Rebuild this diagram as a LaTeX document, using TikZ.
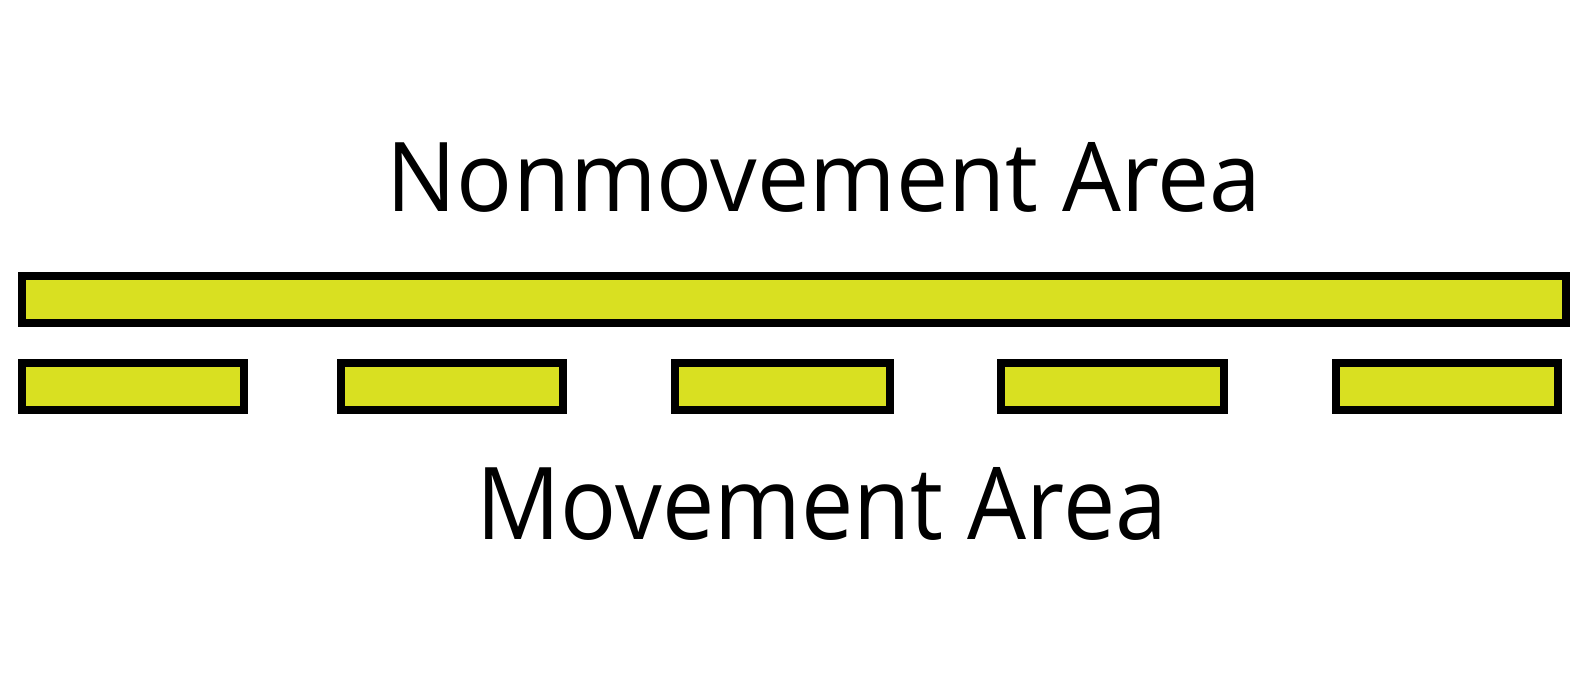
\documentclass[tikz,border=0pt]{standalone}
\usepackage{fontspec}
\setmainfont{Open Sans}
\definecolor{barfill}{RGB}{217,224,33}
\tikzset{
  bar/.style={draw=black, line width=8pt, fill=barfill},
  label/.style={inner sep=0pt, outer sep=0pt, anchor=base, text=black}
}
\begin{document}
\begin{tikzpicture}[x=1pt, y=-1pt]
\useasboundingbox[fill=white] (0,0) rectangle (1593,684);
% long bar
\draw[bar] (22,276) rectangle (1566,323);
% dashes
\draw[bar] (22,363) rectangle (244,410);
\draw[bar] (341,363) rectangle (563,410);
\draw[bar] (675,363) rectangle (890,410);
\draw[bar] (1001,363) rectangle (1224,410);
\draw[bar] (1336,363) rectangle (1558,410);
% labels
\node[label] (nonmov) at (824,212) {\resizebox{874pt}{69pt}{Nonmovement Area}};
\node[label] (mov) at (822,539) {\resizebox{690pt}{72pt}{Movement Area}};
\end{tikzpicture}
\end{document}
